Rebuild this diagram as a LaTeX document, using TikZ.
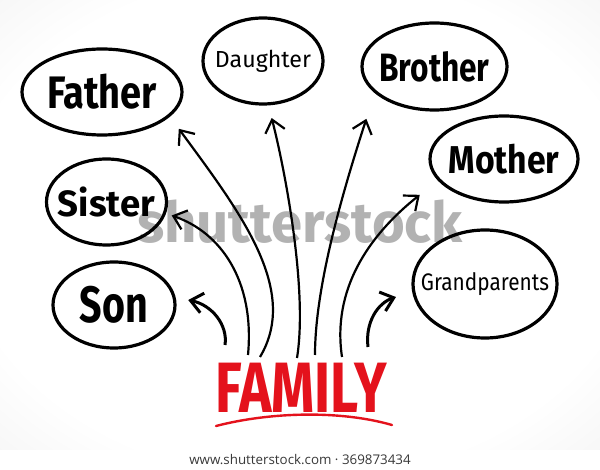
\documentclass[tikz,border=0pt]{standalone}
\usepackage{fontspec}
\usepackage{graphicx}
\setmainfont{Fira Sans}
\newfontfamily\footfont{Open Sans}
\usetikzlibrary{shapes.geometric,arrows.meta}
\definecolor{famred}{RGB}{228,18,28}
\definecolor{markgrey}{RGB}{178,178,178}
\pgfdeclareradialshading{paper}{\pgfpoint{0bp}{0bp}}{color(0bp)=(white); color(28bp)=(white); color(50bp)=(black!9); color(72bp)=(black!19)}
\def\tallword[#1]#2{\makebox[0pt]{\scalebox{1}[#1]{#2}}}
\tikzset{
  member/.style={ellipse, draw, line width=0.8mm, inner sep=0pt},
  branch/.style={line width=0.55mm, -{Straight Barb[length=3mm,width=5mm]}},
  stub/.style={branch, line width=0.75mm}
}

\begin{document}
\begin{tikzpicture}[x=0.25mm,y=-0.25mm]
		%%%%% PAPER %%%%%
		\useasboundingbox (0,0) rectangle (600,470);
		\fill[white] (0,0) rectangle (600,470);
		\shade[shading=paper] (0,0) rectangle (600,450);
		\node[text=markgrey, font=\bfseries\fontsize{40}{40}\selectfont] (mark) at (300,222) {shutterstock};
		
		%%%%% MEMBERS %%%%%
		\node[member, minimum width=40mm, minimum height=21.5mm] (father) at (102,92) {\bfseries\fontsize{27}{27}\selectfont\tallword[1.2]{Father}};
		\node[member, minimum width=30mm, minimum height=21.5mm] (daughter) at (263,61) {\fontsize{16.5}{16.5}\selectfont\tallword[1]{Daughter}};
		\node[member, minimum width=36.25mm, minimum height=21.75mm] (brother) at (434.5,66.5) {\bfseries\fontsize{22.5}{22.5}\selectfont\tallword[1.25]{Brother}};
		\node[member, minimum width=37mm, minimum height=21.5mm] (mother) at (504,159) {\bfseries\fontsize{24}{24}\selectfont\tallword[1.15]{Mother}};
		\node[member, minimum width=30mm, minimum height=21.5mm] (sister) at (106.5,202) {\bfseries\fontsize{26}{26}\selectfont\tallword[1]{Sister}};
		\node[member, minimum width=30.5mm, minimum height=21.5mm] (son) at (114,305) {\bfseries\fontsize{28}{28}\selectfont\tallword[1.3]{Son}};
		\node[member, minimum width=36mm, minimum height=27mm] (grand) at (485,284) {\fontsize{14.8}{14.8}\selectfont\tallword[1.15]{Grandparents}};
		
		%%%%% CENTRE %%%%%
		\node[text=famred, font=\bfseries\fontsize{39}{39}\selectfont] (family) at (301,388) {\tallword[1.3]{FAMILY}};
		\draw[famred, line width=0.6mm, line cap=round] (216,426) .. controls (270,412) and (340,410) .. (392,425);
		
		\coordinate (sSon) at (225,345);
		\coordinate (sSister) at (248,355);
		\coordinate (sFather) at (260,357);
		\coordinate (sDaughter) at (297,358);
		\coordinate (sBrother) at (315,355);
		\coordinate (sMother) at (342,357);
		\coordinate (sGrand) at (368,347);
		
		\draw[stub, shorten >=3.2mm] (sSon) .. controls (228,325) and (212,305) .. (son.7);
		\draw[branch, shorten >=1.5mm] (sSister) .. controls (255,280) and (220,232) .. (sister.-11);
		\draw[branch, shorten >=3.75mm] (sFather) .. controls (300,290) and (240,212) .. (father.-20);
		\draw[branch, shorten >=3.25mm] (sDaughter) .. controls (308,290) and (285,170) .. (daughter.-83);
		\draw[branch, shorten >=6.75mm] (sBrother) .. controls (315,290) and (340,200) .. (brother.204);
		\draw[branch, shorten >=5.75mm] (sMother) .. controls (332,290) and (368,236) .. (mother.198);
		\draw[stub, shorten >=4.25mm] (sGrand) .. controls (365,322) and (378,303) .. (grand.186);
		
		%%%%% FOOTER %%%%%
		\node[text=black!78, font=\footfont\fontsize{9.5}{10}\selectfont] (credit) at (300,460) {www.shutterstock.com · 369873434};
		
		%%%%% END %%%%%
\end{tikzpicture}
\end{document}
